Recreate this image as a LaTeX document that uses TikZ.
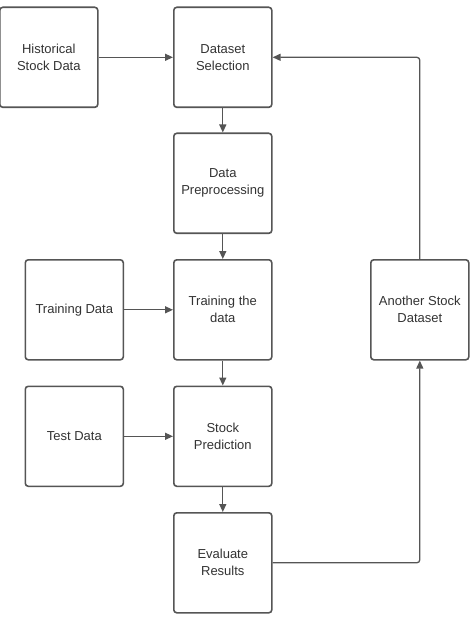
\documentclass[tikz,border=0pt]{standalone}
\usepackage{fontspec}
\setmainfont{Liberation Sans}
\usetikzlibrary{arrows.meta}
\definecolor{ln}{HTML}{555555}
\definecolor{tx}{HTML}{333333}
\begin{document}
\begin{tikzpicture}[x=1pt,y=-1pt,
  box/.style={draw=ln,line width=1.6pt,rounded corners=3pt,minimum width=98pt,minimum height=100pt,
    inner sep=0pt,align=center,text=tx,font=\fontsize{13}{17}\selectfont,anchor=north west},
  arr/.style={draw=ln,line width=1.3pt,-{Triangle[length=8pt,width=7pt]}}]
\useasboundingbox (0,0) rectangle (474,617);
\fill[white] (0,0) rectangle (474,617);
\node[box] (hist) at (-1,6.5) {Historical\\Stock Data};
\node[box] (sel) at (173,6.5) {Dataset\\Selection};
\node[box] (pre) at (173,132.5) {Data\\Preprocessing};
\node[box] (tra) at (173,259) {Training the\\data};
\node[box] (trd) at (24.5,259) {Training Data};
\node[box] (pred) at (173,385.5) {Stock\\Prediction};
\node[box] (ted) at (24.5,385.5) {Test Data};
\node[box] (eval) at (173,512) {Evaluate\\Results};
\node[box] (ano) at (370,259) {Another Stock\\Dataset};
\draw[arr] (hist) -- (sel);
\draw[arr] (sel) -- (pre);
\draw[arr] (pre) -- (tra);
\draw[arr] (trd) -- (tra);
\draw[arr] (tra) -- (pred);
\draw[arr] (ted) -- (pred);
\draw[arr] (pred) -- (eval);
\draw[arr,rounded corners=3pt] (eval.east) -| (ano.south);
\draw[arr,rounded corners=3pt] (ano.north) |- (sel.east);
\end{tikzpicture}
\end{document}
